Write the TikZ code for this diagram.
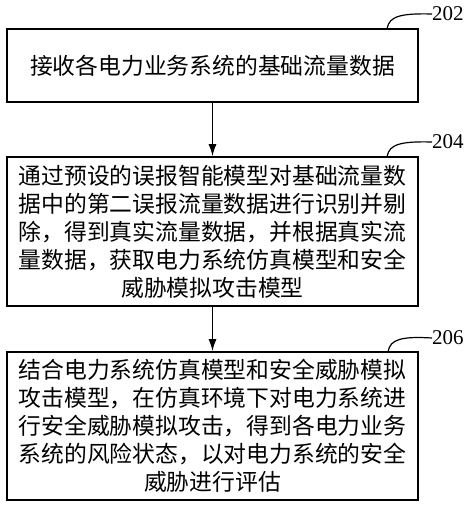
\documentclass[tikz,border=0pt]{standalone}
\usepackage{fontspec}
\setmainfont{Liberation Serif}
\newfontfamily\cjk{Noto Sans CJK SC}
\usetikzlibrary{arrows.meta}
\tikzset{
  stepbox/.style={draw=black, line width=1.6pt, rectangle, minimum width=411pt, inner sep=0pt,
    align=center, font=\cjk\fontsize{22.8}{28}\selectfont},
  leader/.style={draw=black, line width=1.2pt},
  reflabel/.style={anchor=west, inner sep=0pt, font=\fontsize{21}{21}\selectfont},
  flow/.style={draw=black, line width=1.3pt, -{Latex[length=12pt,width=8pt]}}
}
\begin{document}
\begin{tikzpicture}[x=1pt,y=-1pt]
\useasboundingbox (0,0) rectangle (474,505);
\node[stepbox, minimum height=73pt] (b1) at (212.5,65.5) {接收各电力业务系统的基础流量数据};
\node[stepbox, minimum height=149pt] (b2) at (212.5,231.5) {通过预设的误报智能模型对基础流量数\\据中的第二误报流量数据进行识别并剔\\除，得到真实流量数据，并根据真实流\\量数据，获取电力系统仿真模型和安全\\威胁模拟攻击模型};
\node[stepbox, minimum height=148pt] (b3) at (212.5,426) {结合电力系统仿真模型和安全威胁模拟\\攻击模型，在仿真环境下对电力系统进\\行安全威胁模拟攻击，得到各电力业务\\系统的风险状态，以对电力系统的安全\\威胁进行评估};
\draw[flow] (b1.south) -- (b2.north);
\draw[flow] (b2.south) -- (b3.north);
\node[reflabel] (l1) at (432,14) {202};
\node[reflabel] (l2) at (432,142) {204};
\node[reflabel] (l3) at (432,338) {206};
\draw[leader] ([xshift=381pt]b1.north west) .. controls ([xshift=383pt,yshift=12pt]b1.north west) and ([xshift=395pt,yshift=15pt]b1.north west) .. (l1.west);
\draw[leader] ([xshift=381pt]b2.north west) .. controls ([xshift=383pt,yshift=12pt]b2.north west) and ([xshift=395pt,yshift=15pt]b2.north west) .. (l2.west);
\draw[leader] ([xshift=382pt]b3.north west) .. controls ([xshift=384pt,yshift=12pt]b3.north west) and ([xshift=396pt,yshift=15pt]b3.north west) .. (l3.west);
\end{tikzpicture}
\end{document}
